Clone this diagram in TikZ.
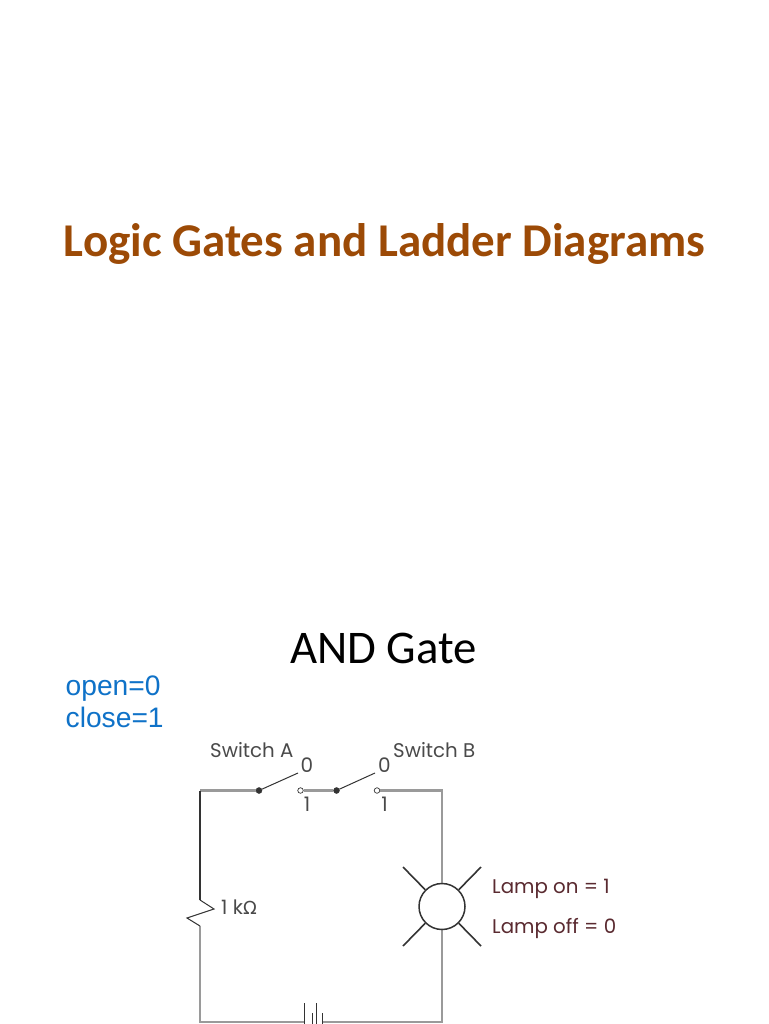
\documentclass[tikz,border=0pt]{standalone}
\usepackage{fontspec}
\setmainfont{Carlito}
\newfontfamily\arialf{Liberation Sans}
\newfontfamily\geof{Poppins}
\newfontfamily\omegaf{DejaVu Sans}
\definecolor{titlebrown}{HTML}{9C4A06}
\definecolor{noteblue}{HTML}{0F72C8}
\definecolor{wiregray}{HTML}{9A9A9A}
\definecolor{inkdark}{HTML}{333333}
\definecolor{labelgray}{HTML}{4A4A4A}
\definecolor{lampred}{HTML}{5A2A30}
\tikzset{
 x=1pt,y=-1pt,
 wire/.style={draw=wiregray,line width=2.2pt},
 darkwire/.style={draw=inkdark,line width=2pt},
 arm/.style={draw=inkdark,line width=1pt},
 ray/.style={draw=inkdark,line width=1.6pt},
 soliddot/.style={circle,fill=inkdark,draw=inkdark,inner sep=0pt,minimum size=6pt},
 opendot/.style={circle,fill=white,draw=inkdark,line width=0.7pt,inner sep=0pt,minimum size=5.5pt},
 lab/.style={font=\geof\fontsize{19.8}{24}\selectfont,text=labelgray,inner sep=0pt},
 num/.style={font=\geof\fontsize{20}{24}\selectfont,text=labelgray,inner sep=0pt},
 note/.style={inner sep=0pt,anchor=base west,text=noteblue,font=\arialf\fontsize{28.2}{28.2}\selectfont},
}
\begin{document}
\begin{tikzpicture}
\useasboundingbox[fill=white] (0,0) rectangle (768,1024);
\node[inner sep=0pt,text=titlebrown,font=\bfseries\fontsize{47}{54}\selectfont] (title) at (384.5,244) {Logic Gates and Ladder Diagrams};
\node[inner sep=0pt,font=\fontsize{46.8}{54}\selectfont] (gate) at (383.5,648) {AND Gate};
\node[note] (open) at (65.5,695) {open=0};
\node[note] (close) at (65.5,727) {close=1};

% corners and junctions
\coordinate (tl) at (200,790.5);
\coordinate (tr) at (442,790.5);
\coordinate (bl) at (200,1022);
\coordinate (br) at (442,1022);
\coordinate (r1) at (200,900);
\coordinate (r2) at (214,909);
\coordinate (r3) at (187,918);
\coordinate (r4) at (200,926);
\coordinate (b1) at (304,1022);
\coordinate (b4) at (322,1022);
\coordinate (armA) at (298,773);
\coordinate (armB) at (375,773);

\node[soliddot] (sa) at (259,790.5) {};
\node[opendot] (oa) at (300.5,790.5) {};
\node[soliddot] (sb) at (336.5,790.5) {};
\node[opendot] (ob) at (377,790.5) {};

% wires
\draw[wire,line join=miter] (r4) -- (bl) -- (b1);
\draw[wire] (b4) -- (br) -- (tr) -- (ob);
\draw[wire] (oa) -- (sb);
\draw[wire] (tl) -- (sa);
\draw[darkwire] (tl) -- (r1);
\draw[draw=inkdark,line width=1pt] (r1) -- (r2) -- (r3) -- (r4);
\draw[arm] (sa) -- (armA);
\draw[arm] (sb) -- (armB);

% battery
\coordinate (b2) at (312,1024);
\coordinate (b3) at (316,1024);
\draw[arm] (b1) ++(0,2) -- ++(0,-21);
\draw[arm] (b2) -- ++(0,-11);
\draw[arm] (b3) -- ++(0,-21);
\draw[arm] (b4) ++(0,2) -- ++(0,-11);

% lamp
\node[circle,draw=inkdark,fill=white,line width=1.5pt,inner sep=0pt,minimum size=46pt] (lamp) at (442,906.5) {};
\coordinate (ray1) at (403,867);
\coordinate (ray2) at (481,867);
\coordinate (ray3) at (403,946);
\coordinate (ray4) at (481,946);
\draw[ray] (lamp.135) -- (ray1);
\draw[ray] (lamp.45) -- (ray2);
\draw[ray] (lamp.225) -- (ray3);
\draw[ray] (lamp.315) -- (ray4);

% labels
\node[lab,anchor=base west] (swa) at (210,757) {Switch A};
\node[lab,anchor=base west] (swb) at (393,757) {Switch B};
\node[num] (n0a) at (307,765.5) {0};
\node[num] (n0b) at (384.5,765.5) {0};
\node[num] (n1a) at (307,804.5) {1};
\node[num] (n1b) at (384.5,804.5) {1};
\node[lab,anchor=base west] (rv) at (221,914.5) {1 k{\omegaf\fontsize{18}{22}\selectfont Ω}};
\node[lab,anchor=base west,text=lampred] (lon) at (492,893.5) {Lamp on = 1};
\node[lab,anchor=base west,text=lampred] (loff) at (492,933) {Lamp off = 0};
\end{tikzpicture}
\end{document}
